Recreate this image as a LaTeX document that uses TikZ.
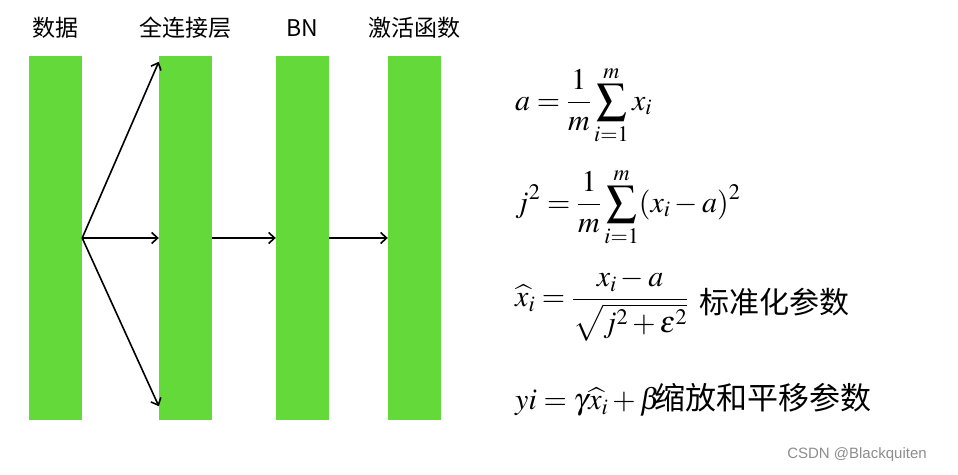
\documentclass[tikz,border=0pt]{standalone}
\usepackage{mathptmx}
\usepackage[no-math]{fontspec}
\newfontfamily\cjk{Noto Sans CJK SC}
\newfontfamily\wmfont{Liberation Sans}
\usepackage{tikz}
\usetikzlibrary{arrows.meta,positioning}

\definecolor{bargreen}{HTML}{63D93A}

\begin{document}
\begin{tikzpicture}[x=1pt,y=1pt,
  bar/.style={fill=bargreen,minimum width=53pt,minimum height=364pt,inner sep=0pt},
  title/.style={font=\cjk\fontsize{23}{23}\selectfont,inner sep=0pt},
  link/.style={line width=1.6pt,-{Straight Barb[length=6pt,width=11pt]}},
  formula/.style={anchor=west,inner sep=0pt,font=\fontsize{30}{30}\selectfont},
  note/.style={anchor=west,inner sep=0pt,font=\cjk\fontsize{30}{30}\selectfont}]
  \useasboundingbox (0,0) rectangle (958,474);
  % layers
  \node[bar] (data) at ( 55.5,236) {};
  \node[bar] (fc)   at (185.5,236) {};
  \node[bar] (bn)   at (302.5,236) {};
  \node[bar] (act)  at (414.5,236) {};
  \node[title] at (55.5,446)  {数据};
  \node[title] at (185.5,446) {全连接层};
  \node[title] at (302.5,446) {BN};
  \node[title] at (414.5,446) {激活函数};
  % links
  \draw[link] (data.east) -- ([yshift=-6pt]fc.north west);
  \draw[link] (data.east) -- (fc.west);
  \draw[link] (data.east) -- ([yshift=14pt]fc.south west);
  \draw[link] (fc.east) -- (bn.west);
  \draw[link] (bn.east) -- (act.west);
  % formulas
  \node[formula] (mean) at (515,369) {$\displaystyle a=\frac{1}{m}\sum_{i=1}^{m}x_i$};
  \node[formula] (var)  at (515,267) {$\displaystyle j^2=\frac{1}{m}\sum_{i=1}^{m}(x_i-a)^2$};
  \node[formula] (norm) at (515,169) {$\displaystyle \widehat{x}_i=\frac{x_i-a}{\sqrt{j^2+\varepsilon^2}}$};
  \node[note] at (699,172) {标准化参数};
  \node[formula] (scale) at (515,74) {$yi=\gamma\widehat{x}_i+\beta$\hspace{-6pt}{\cjk\fontsize{31}{31}\selectfont 缩放和平移参数}};
  \node[font=\wmfont\fontsize{15}{15}\selectfont,text=black!45,inner sep=0pt] at (857,19) {CSDN @Blackquiten};
\end{tikzpicture}
\end{document}
